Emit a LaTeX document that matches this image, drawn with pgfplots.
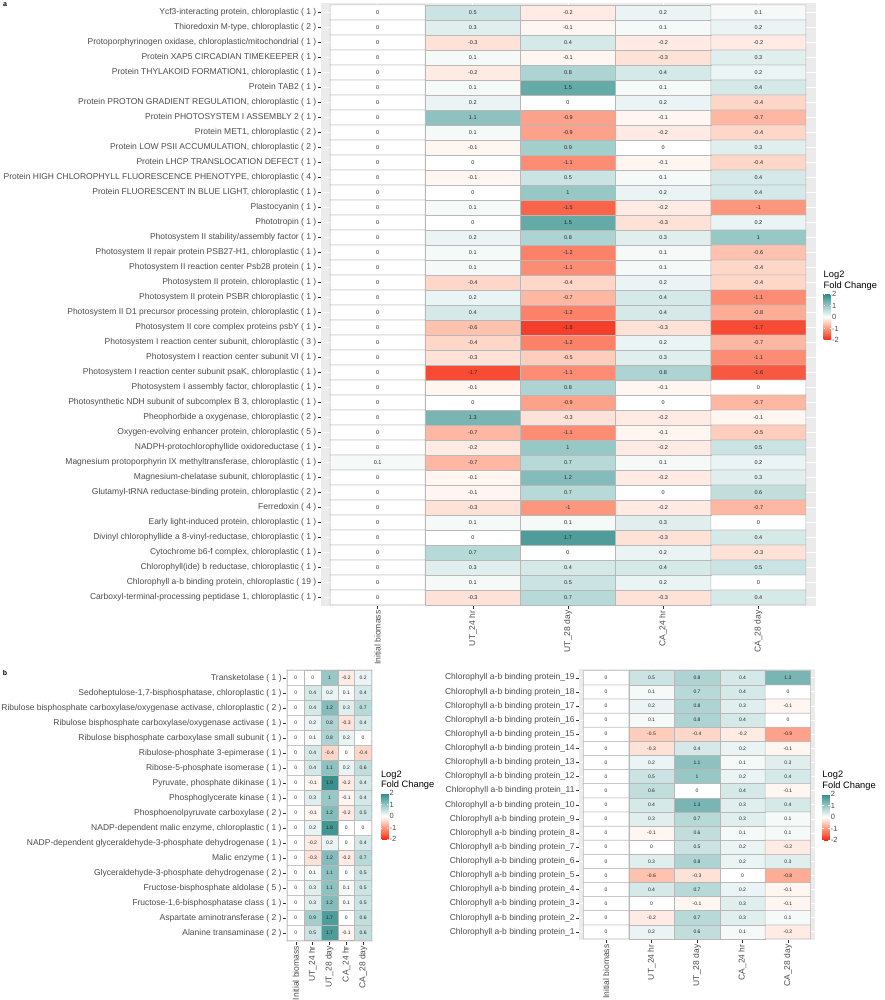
\documentclass[border=0pt]{standalone}
\usepackage{fontspec}
\setmainfont{Liberation Sans}
\usepackage{pgfplots}
\usepackage{pgfplotstable}
\pgfplotsset{compat=1.18}

\pgfplotsset{
  colormap={lfc}{rgb255(0pt)=(242,38,22); rgb255(1pt)=(250,100,75); rgb255(2pt)=(252,150,125); rgb255(3pt)=(254,205,188); rgb255(4pt)=(255,255,255); rgb255(5pt)=(203,228,227); rgb255(6pt)=(152,200,198); rgb255(7pt)=(100,170,167); rgb255(8pt)=(45,138,133)},
  hm/.style={
    scale only axis, enlargelimits=false,
    /pgf/number format/assume math mode=true,
    xmin=-0.6, xmax=4.6,
    xtick={0,1,2,3,4},
    xticklabels={Initial biomass, UT\_24 hr, UT\_28 day, CA\_24 hr, CA\_28 day},
    tick pos=left, tick align=outside, major tick length=2.5pt,
    tick style={black!80, line width=0.5pt},
    axis line style={draw=none},
    axis background/.style={fill=black!8},
    xmajorgrids, ymajorgrids, major grid style={white, line width=0.9pt},
    tick label style={font=\fontsize{8.5}{9}\selectfont, text=black!70},
    xticklabel style={rotate=90, anchor=east, inner sep=1.5pt},
    yticklabel style={inner sep=1.5pt},
    colormap name=lfc, point meta min=-2, point meta max=2,
    colorbar,
    colorbar style={
      width=7.5pt, height=46pt,
      ytick={-2,-1,0,1,2}, yticklabels={-2,-1,0,1,2},
      xtick=\empty,
      axis line style={draw=none},
      major tick length=1.5pt, tick align=inside,
      tick style={white, line width=0.6pt},
      yticklabel pos=right,
      yticklabel style={font=\fontsize{7.5}{8}\selectfont, text=black!70, inner sep=1pt, rotate=0, anchor=west},
      xmajorgrids=false, ymajorgrids=false, axis background/.style={},
      title={Log2\\Fold Change},
      every axis title/.style={at={(0,1)}, anchor=south west, align=left, inner sep=0pt, yshift=3.5pt, font=\fontsize{9.3}{10.5}\selectfont, text=black},
    },
  },
  cells/.style={matrix plot*, shader=faceted, faceted color=black!28, line width=0.5pt, mesh/cols=5, point meta=explicit},
  vals/.style={only marks, mark=text, text mark={}, nodes near coords, point meta=explicit symbolic, nodes near coords align=center, every node near coord/.append style={font=\fontsize{#1}{6}\selectfont, text=black!85, inner sep=0pt}},
}

\pgfplotstableread[row sep=\\]{
x y v\\
0 0 0\\ 1 0 -0.3\\ 2 0 0.7\\ 3 0 -0.3\\ 4 0 0.4\\
0 1 0\\ 1 1 0.1\\ 2 1 0.5\\ 3 1 0.2\\ 4 1 0\\
0 2 0\\ 1 2 0.3\\ 2 2 0.4\\ 3 2 0.4\\ 4 2 0.5\\
0 3 0\\ 1 3 0.7\\ 2 3 0\\ 3 3 0.2\\ 4 3 -0.3\\
0 4 0\\ 1 4 0\\ 2 4 1.7\\ 3 4 -0.3\\ 4 4 0.4\\
0 5 0\\ 1 5 0.1\\ 2 5 0.1\\ 3 5 0.3\\ 4 5 0\\
0 6 0\\ 1 6 -0.3\\ 2 6 -1\\ 3 6 -0.2\\ 4 6 -0.7\\
0 7 0\\ 1 7 -0.1\\ 2 7 0.7\\ 3 7 0\\ 4 7 0.6\\
0 8 0\\ 1 8 -0.1\\ 2 8 1.2\\ 3 8 -0.2\\ 4 8 0.3\\
0 9 0.1\\ 1 9 -0.7\\ 2 9 0.7\\ 3 9 0.1\\ 4 9 0.2\\
0 10 0\\ 1 10 -0.2\\ 2 10 1\\ 3 10 -0.2\\ 4 10 0.5\\
0 11 0\\ 1 11 -0.7\\ 2 11 -1.1\\ 3 11 -0.1\\ 4 11 -0.5\\
0 12 0\\ 1 12 1.3\\ 2 12 -0.3\\ 3 12 -0.2\\ 4 12 -0.1\\
0 13 0\\ 1 13 0\\ 2 13 -0.9\\ 3 13 0\\ 4 13 -0.7\\
0 14 0\\ 1 14 -0.1\\ 2 14 0.8\\ 3 14 -0.1\\ 4 14 0\\
0 15 0\\ 1 15 -1.7\\ 2 15 -1.1\\ 3 15 0.8\\ 4 15 -1.6\\
0 16 0\\ 1 16 -0.3\\ 2 16 -0.5\\ 3 16 0.3\\ 4 16 -1.1\\
0 17 0\\ 1 17 -0.4\\ 2 17 -1.2\\ 3 17 0.2\\ 4 17 -0.7\\
0 18 0\\ 1 18 -0.6\\ 2 18 -1.8\\ 3 18 -0.3\\ 4 18 -1.7\\
0 19 0\\ 1 19 0.4\\ 2 19 -1.2\\ 3 19 0.4\\ 4 19 -0.8\\
0 20 0\\ 1 20 0.2\\ 2 20 -0.7\\ 3 20 0.4\\ 4 20 -1.1\\
0 21 0\\ 1 21 -0.4\\ 2 21 -0.4\\ 3 21 0.2\\ 4 21 -0.4\\
0 22 0\\ 1 22 0.1\\ 2 22 -1.1\\ 3 22 0.1\\ 4 22 -0.4\\
0 23 0\\ 1 23 0.1\\ 2 23 -1.2\\ 3 23 0.1\\ 4 23 -0.6\\
0 24 0\\ 1 24 0.2\\ 2 24 0.8\\ 3 24 0.3\\ 4 24 1\\
0 25 0\\ 1 25 0\\ 2 25 1.5\\ 3 25 -0.3\\ 4 25 0.2\\
0 26 0\\ 1 26 0.1\\ 2 26 -1.5\\ 3 26 -0.2\\ 4 26 -1\\
0 27 0\\ 1 27 0\\ 2 27 1\\ 3 27 0.2\\ 4 27 0.4\\
0 28 0\\ 1 28 -0.1\\ 2 28 0.5\\ 3 28 0.1\\ 4 28 0.4\\
0 29 0\\ 1 29 0\\ 2 29 -1.1\\ 3 29 -0.1\\ 4 29 -0.4\\
0 30 0\\ 1 30 -0.1\\ 2 30 0.9\\ 3 30 0\\ 4 30 0.3\\
0 31 0\\ 1 31 0.1\\ 2 31 -0.9\\ 3 31 -0.2\\ 4 31 -0.4\\
0 32 0\\ 1 32 1.1\\ 2 32 -0.9\\ 3 32 -0.1\\ 4 32 -0.7\\
0 33 0\\ 1 33 0.2\\ 2 33 0\\ 3 33 0.2\\ 4 33 -0.4\\
0 34 0\\ 1 34 0.1\\ 2 34 1.5\\ 3 34 0.1\\ 4 34 0.4\\
0 35 0\\ 1 35 -0.2\\ 2 35 0.8\\ 3 35 0.4\\ 4 35 0.2\\
0 36 0\\ 1 36 0.1\\ 2 36 -0.1\\ 3 36 -0.3\\ 4 36 0.3\\
0 37 0\\ 1 37 -0.3\\ 2 37 0.4\\ 3 37 -0.2\\ 4 37 -0.2\\
0 38 0\\ 1 38 0.3\\ 2 38 -0.1\\ 3 38 0.1\\ 4 38 0.2\\
0 39 0\\ 1 39 0.5\\ 2 39 -0.2\\ 3 39 0.2\\ 4 39 0.1\\
}\tabA

\pgfplotstableread[row sep=\\]{
x y v\\
0 0 0\\ 1 0 0.5\\ 2 0 1.7\\ 3 0 -0.1\\ 4 0 0.6\\
0 1 0\\ 1 1 0.9\\ 2 1 1.7\\ 3 1 0\\ 4 1 0.6\\
0 2 0\\ 1 2 0.3\\ 2 2 1.2\\ 3 2 0.1\\ 4 2 0.5\\
0 3 0\\ 1 3 0.3\\ 2 3 1.1\\ 3 3 0.1\\ 4 3 0.5\\
0 4 0\\ 1 4 0.1\\ 2 4 1.1\\ 3 4 0\\ 4 4 0.5\\
0 5 0\\ 1 5 -0.3\\ 2 5 1.2\\ 3 5 -0.2\\ 4 5 0.7\\
0 6 0\\ 1 6 -0.2\\ 2 6 0.2\\ 3 6 0\\ 4 6 0.4\\
0 7 0\\ 1 7 0.2\\ 2 7 1.8\\ 3 7 0\\ 4 7 0\\
0 8 0\\ 1 8 -0.1\\ 2 8 1.2\\ 3 8 -0.2\\ 4 8 0.5\\
0 9 0\\ 1 9 0.3\\ 2 9 1\\ 3 9 -0.1\\ 4 9 0.4\\
0 10 0\\ 1 10 -0.1\\ 2 10 1.9\\ 3 10 -0.2\\ 4 10 0.4\\
0 11 0\\ 1 11 0.4\\ 2 11 1.1\\ 3 11 0.2\\ 4 11 0.6\\
0 12 0\\ 1 12 0.4\\ 2 12 -0.4\\ 3 12 0\\ 4 12 -0.4\\
0 13 0\\ 1 13 0.1\\ 2 13 0.8\\ 3 13 0.2\\ 4 13 0\\
0 14 0\\ 1 14 0.2\\ 2 14 0.8\\ 3 14 -0.3\\ 4 14 0.4\\
0 15 0\\ 1 15 0.4\\ 2 15 1.2\\ 3 15 0.3\\ 4 15 0.7\\
0 16 0\\ 1 16 0.4\\ 2 16 0.2\\ 3 16 0.1\\ 4 16 0.4\\
0 17 0\\ 1 17 0\\ 2 17 1\\ 3 17 -0.2\\ 4 17 0.2\\
}\tabB

\pgfplotstableread[row sep=\\]{
x y v\\
0 0 0\\ 1 0 0.2\\ 2 0 0.6\\ 3 0 0.1\\ 4 0 -0.2\\
0 1 0\\ 1 1 -0.2\\ 2 1 0.7\\ 3 1 0.3\\ 4 1 0.1\\
0 2 0\\ 1 2 0\\ 2 2 -0.1\\ 3 2 0.3\\ 4 2 -0.1\\
0 3 0\\ 1 3 0.4\\ 2 3 0.7\\ 3 3 0.2\\ 4 3 -0.1\\
0 4 0\\ 1 4 -0.6\\ 2 4 -0.3\\ 3 4 0\\ 4 4 -0.8\\
0 5 0\\ 1 5 0.3\\ 2 5 0.8\\ 3 5 0.2\\ 4 5 0.3\\
0 6 0\\ 1 6 0\\ 2 6 0.5\\ 3 6 0.2\\ 4 6 -0.2\\
0 7 0\\ 1 7 -0.1\\ 2 7 0.6\\ 3 7 0.1\\ 4 7 0.1\\
0 8 0\\ 1 8 0.3\\ 2 8 0.7\\ 3 8 0.3\\ 4 8 0.1\\
0 9 0\\ 1 9 0.4\\ 2 9 1.3\\ 3 9 0.3\\ 4 9 0.4\\
0 10 0\\ 1 10 0.6\\ 2 10 0\\ 3 10 0.4\\ 4 10 -0.1\\
0 11 0\\ 1 11 0.5\\ 2 11 1\\ 3 11 0.2\\ 4 11 0.4\\
0 12 0\\ 1 12 0.2\\ 2 12 1.1\\ 3 12 0.1\\ 4 12 0.3\\
0 13 0\\ 1 13 -0.3\\ 2 13 0.4\\ 3 13 0.2\\ 4 13 -0.1\\
0 14 0\\ 1 14 -0.5\\ 2 14 -0.4\\ 3 14 -0.2\\ 4 14 -0.9\\
0 15 0\\ 1 15 0.1\\ 2 15 0.8\\ 3 15 0.4\\ 4 15 0\\
0 16 0\\ 1 16 0.2\\ 2 16 0.8\\ 3 16 0.3\\ 4 16 -0.1\\
0 17 0\\ 1 17 0.1\\ 2 17 0.7\\ 3 17 0.4\\ 4 17 0\\
0 18 0\\ 1 18 0.5\\ 2 18 0.8\\ 3 18 0.4\\ 4 18 1.3\\
}\tabC

\begin{document}
\begin{tikzpicture}
\path[use as bounding box] (0,0) rectangle (884pt,1000pt);

% ---------------- panel a ----------------
\begin{axis}[hm,
  at={(320.5pt,393.5pt)}, anchor=south west,
  width=495pt, height=603pt,
  ymin=-0.6, ymax=39.6,
  ytick={0,...,39},
  yticklabels={
    {Carboxyl-terminal-processing peptidase 1, chloroplastic ( 1 )},
    {Chlorophyll a-b binding protein, chloroplastic ( 19 )},
    {Chlorophyll(ide) b reductase, chloroplastic ( 1 )},
    {Cytochrome b6-f complex, chloroplastic ( 1 )},
    {Divinyl chlorophyllide a 8-vinyl-reductase, chloroplastic ( 1 )},
    {Early light-induced protein, chloroplastic ( 1 )},
    {Ferredoxin ( 4 )},
    {Glutamyl-tRNA reductase-binding protein, chloroplastic ( 2 )},
    {Magnesium-chelatase subunit, chloroplastic ( 1 )},
    {Magnesium protoporphyrin IX methyltransferase, chloroplastic ( 1 )},
    {NADPH-protochlorophyllide oxidoreductase ( 1 )},
    {Oxygen-evolving enhancer protein, chloroplastic ( 5 )},
    {Pheophorbide a oxygenase, chloroplastic ( 2 )},
    {Photosynthetic NDH subunit of subcomplex B 3, chloroplastic ( 1 )},
    {Photosystem I assembly factor, chloroplastic ( 1 )},
    {Photosystem I reaction center subunit psaK, chloroplastic ( 1 )},
    {Photosystem I reaction center subunit VI ( 1 )},
    {Photosystem I reaction center subunit, chloroplastic ( 3 )},
    {Photosystem II core complex proteins psbY ( 1 )},
    {Photosystem II D1 precursor processing protein, chloroplastic ( 1 )},
    {Photosystem II protein PSBR chloroplastic ( 1 )},
    {Photosystem II protein, chloroplastic ( 1 )},
    {Photosystem II reaction center Psb28 protein ( 1 )},
    {Photosystem II repair protein PSB27-H1, chloroplastic ( 1 )},
    {Photosystem II stability/assembly factor ( 1 )},
    {Phototropin ( 1 )},
    {Plastocyanin ( 1 )},
    {Protein FLUORESCENT IN BLUE LIGHT, chloroplastic ( 1 )},
    {Protein HIGH CHLOROPHYLL FLUORESCENCE PHENOTYPE, chloroplastic ( 4 )},
    {Protein LHCP TRANSLOCATION DEFECT ( 1 )},
    {Protein LOW PSII ACCUMULATION, chloroplastic ( 2 )},
    {Protein MET1, chloroplastic ( 2 )},
    {Protein PHOTOSYSTEM I ASSEMBLY 2 ( 1 )},
    {Protein PROTON GRADIENT REGULATION, chloroplastic ( 1 )},
    {Protein TAB2 ( 1 )},
    {Protein THYLAKOID FORMATION1, chloroplastic ( 1 )},
    {Protein XAP5 CIRCADIAN TIMEKEEPER ( 1 )},
    {Protoporphyrinogen oxidase, chloroplastic/mitochondrial ( 1 )},
    {Thioredoxin M-type, chloroplastic ( 2 )},
    {Ycf3-interacting protein, chloroplastic ( 1 )}},
  colorbar style={at={(parent axis.north east)}, anchor=north west, xshift=-0.5pt, yshift=-290.5pt},
]
\addplot[cells] table[x=x, y=y, meta=v]{\tabA};
\addplot[vals=5.5] table[x=x, y=y, meta=v]{\tabA};
\end{axis}

% ---------------- panel b left ----------------
\begin{axis}[hm,
  at={(285.8pt,58pt)}, anchor=south west,
  width=87.4pt, height=273pt,
  ymin=-0.6, ymax=17.6,
  ytick={0,...,17},
  yticklabels={
    {Alanine transaminase ( 2 )},
    {Aspartate aminotransferase ( 2 )},
    {Fructose-1,6-bisphosphatase class ( 1 )},
    {Fructose-bisphosphate aldolase ( 5 )},
    {Glyceraldehyde-3-phosphate dehydrogenase ( 2 )},
    {Malic enzyme ( 1 )},
    {NADP-dependent glyceraldehyde-3-phosphate dehydrogenase ( 1 )},
    {NADP-dependent malic enzyme, chloroplastic ( 1 )},
    {Phosphoenolpyruvate carboxylase ( 2 )},
    {Phosphoglycerate kinase ( 1 )},
    {Pyruvate, phosphate dikinase ( 1 )},
    {Ribose-5-phosphate isomerase ( 1 )},
    {Ribulose-phosphate 3-epimerase ( 1 )},
    {Ribulose bisphosphate carboxylase small subunit ( 1 )},
    {Ribulose bisphosphate carboxylase/oxygenase activase ( 1 )},
    {Ribulose bisphosphate carboxylase/oxygenase activase, chloroplastic ( 2 )},
    {Sedoheptulose-1,7-bisphosphatase, chloroplastic ( 1 )},
    {Transketolase ( 1 )}},
  colorbar style={at={(parent axis.north east)}, anchor=north west, xshift=-0.9pt, yshift=-124.3pt},
]
\addplot[cells] table[x=x, y=y, meta=v]{\tabB};
\addplot[vals=5] table[x=x, y=y, meta=v]{\tabB};
\end{axis}

% ---------------- panel b right ----------------
\begin{axis}[hm,
  at={(578.75pt,59.6pt)}, anchor=south west,
  width=236.5pt, height=271.1pt,
  ymin=-0.6, ymax=18.6,
  ytick={0,...,18},
  yticklabels={
    {Chlorophyll a-b binding protein\_1},
    {Chlorophyll a-b binding protein\_2},
    {Chlorophyll a-b binding protein\_3},
    {Chlorophyll a-b binding protein\_4},
    {Chlorophyll a-b binding protein\_5},
    {Chlorophyll a-b binding protein\_6},
    {Chlorophyll a-b binding protein\_7},
    {Chlorophyll a-b binding protein\_8},
    {Chlorophyll a-b binding protein\_9},
    {Chlorophyll a-b binding protein\_10},
    {Chlorophyll a-b binding protein\_11},
    {Chlorophyll a-b binding protein\_12},
    {Chlorophyll a-b binding protein\_13},
    {Chlorophyll a-b binding protein\_14},
    {Chlorophyll a-b binding protein\_15},
    {Chlorophyll a-b binding protein\_16},
    {Chlorophyll a-b binding protein\_17},
    {Chlorophyll a-b binding protein\_18},
    {Chlorophyll a-b binding protein\_19}},
  colorbar style={at={(parent axis.north east)}, anchor=north west, xshift=-1.5pt, yshift=-124.7pt},
]
\addplot[cells] table[x=x, y=y, meta=v]{\tabC};
\addplot[vals=5] table[x=x, y=y, meta=v]{\tabC};
\end{axis}

\node[font=\bfseries\fontsize{7}{8}\selectfont, anchor=center] at (5pt,995pt) {a};
\node[font=\bfseries\fontsize{7}{8}\selectfont, anchor=center] at (5pt,327.3pt) {b};
\end{tikzpicture}
\end{document}
